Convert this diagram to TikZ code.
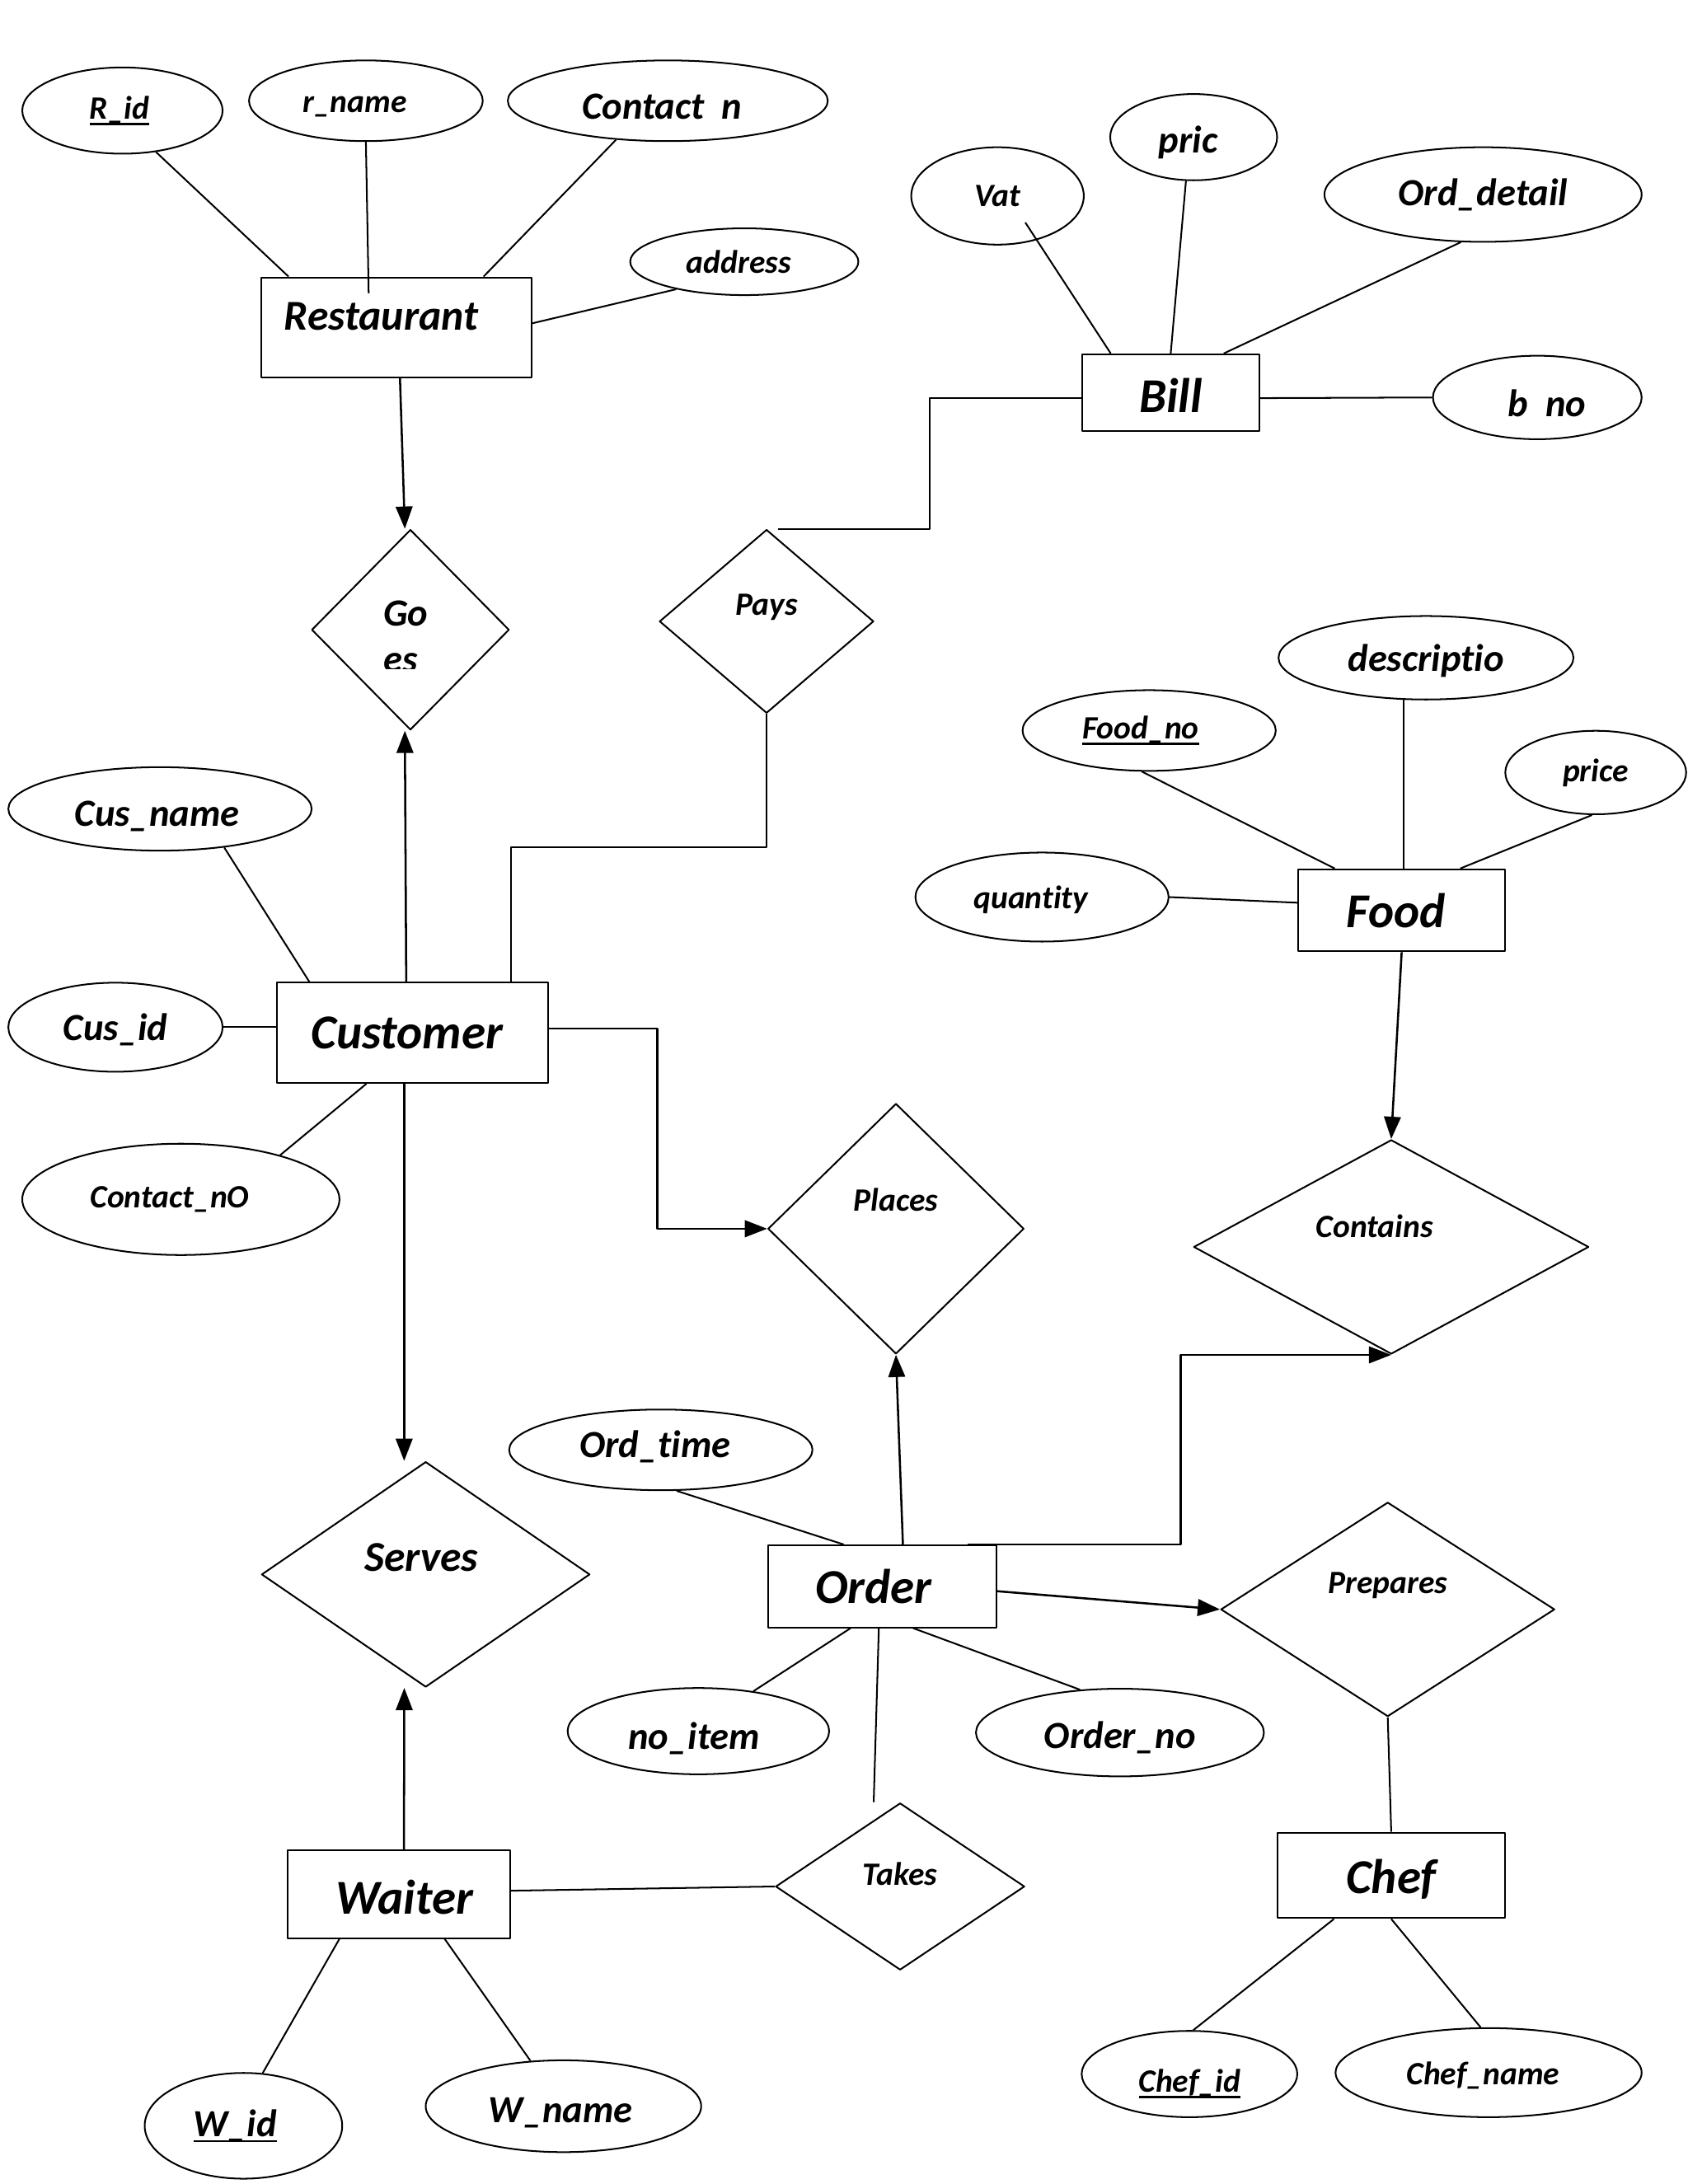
\documentclass[tikz,border=0pt]{standalone}
\usepackage{fontspec}
\setmainfont{Carlito}[Ligatures=NoCommon]
\usetikzlibrary{shapes.geometric,arrows.meta}
\newcommand\szS{\fontsize{11.7}{14}\selectfont}
\newcommand\szM{\fontsize{13.8}{16}\selectfont}
\newcommand\szR{\fontsize{15.3}{18}\selectfont}
\newcommand\szL{\fontsize{17.5}{21}\selectfont}
\newcommand\ul[1]{\setbox0\hbox{#1}\leavevmode\rlap{\vrule height -1.4pt depth 2.1pt width \wd0}\box0}
\tikzset{
	attr/.style={draw,ellipse,inner sep=0pt},
	ent/.style={draw,rectangle,inner sep=0pt},
	rel/.style={draw,diamond,inner sep=0pt},
	link/.style={->,line width=0.75pt},
	atxt/.style={inner sep=0pt,font=\bfseries\itshape},
	etxt/.style={inner sep=0pt,font=\bfseries\itshape\szL},
	rtxt/.style={inner sep=0pt,font=\bfseries\itshape\szS},
	txt/.style={inner sep=0pt,font=\bfseries\itshape\szM}
}
\begin{document}
\begin{tikzpicture}[x=0.5pt,y=-0.503pt,>={Triangle[length=8pt,width=6pt]},line join=round,line width=0.6pt]
	\useasboundingbox (0,0) rectangle (1213,1560.6);
	% attributes
	\foreach \n/\x/\y/\a/\b/\dx/\dy/\t in {
		rid/88/79/72/31/-1/0/{\szS\ul{R\_id}},
		rname/263/72/84/29/-4/-2/{\szS r\_name},
		contn/480/72/115/29/-2/-2/{\szM Contact\ \ n},
		addr/535/187/82/24/-2/0/{\szS address},
		vat/717/140/62/35/0/0/{\szS Vat},
		pric/858/98/60/31/-2/-2/{\szM pric},
		orddet/1066/139/114/34/0/0/{\szM Ord\_detail},
		bno/1105/284/75/30/3.5/-2/{\szM b\ \ no},
		desc/1025/470/106/30/0/-1/{\szM descriptio},
		foodno/826/522/91/29/-3/0/{\szS\ul{Food\_no}},
		price/1147/552/65/30/0/0/{\szS price},
		qty/749/641/91/32/-4/-1/{\szS quantity},
		cusname/115/578/109/30/-1/-2.75/{\szM Cus\_name},
		cusid/83/734/77/32/0/-0.8/{\szM Cus\_id},
		contno/130/857/114/40/-4/0/{\szS Contact\_nO},
		ordtime/475/1036/109/29/-2/1/{\szM Ord\_time},
		noitem/502/1237/94/31/-1.5/-2.5/{\szM no\_item},
		orderno/805/1238/103.5/31.5/0/-1.8/{\szM Order\_no},
		wid/175/1519/71/38/-3/0/{\szM\ul{W\_id}},
		wname/405/1505/99/33/-1/-2.5/{\szM W\_name},
		chefid/855/1482/77.5/31/0/-3.5/{\szS\ul{Chef\_id}},
		chefname/1070/1481/110/32/-2/-1/{\szS Chef\_name}}{
		\node[attr,minimum width=\a pt,minimum height=\b pt,label={[atxt,xshift=\dx pt,yshift=\dy pt]center:\t}] (\n) at (\x,\y) {};
	}
	% entities
	\node[ent,minimum width=97pt,minimum height=36pt,label={[etxt,font=\bfseries\itshape\szR,xshift=-5.5pt,yshift=4pt]center:Restaurant}] (rest) at (285,234) {};
	\node[ent,minimum width=63.5pt,minimum height=27.5pt,label={[etxt,yshift=-1pt]center:Bill}] (bill) at (841.5,280.5) {};
	\node[ent,minimum width=74.5pt,minimum height=29.5pt,label={[etxt,xshift=-2pt]center:Food}] (food) at (1007.5,650.5) {};
	\node[ent,minimum width=97.5pt,minimum height=36pt,label={[etxt,xshift=-2pt]center:Customer}] (cust) at (296.5,738) {};
	\node[ent,minimum width=82pt,minimum height=29.5pt,label={[etxt,xshift=-3pt]center:Order}] (order) at (634,1133.5) {};
	\node[ent,minimum width=79.75pt,minimum height=31.5pt,label={[etxt,xshift=2pt,yshift=-1pt]center:Waiter}] (waiter) at (286.75,1353.5) {};
	\node[ent,minimum width=82pt,minimum height=30.75pt,label={[etxt,yshift=-1.5pt]center:Chef}] (chef) at (1000,1340) {};
	% relationships
	\node[rel,minimum width=71pt,minimum height=72pt] (goes) at (295,450) {};
	\node[txt,anchor=base west] (goA) at (275,447) {Go};
	\begin{scope}
		\clip (250,440) rectangle (340,478);
		\node[txt,anchor=base west] (goB) at (275,480) {es};
	\end{scope}
	\node[rel,minimum width=77pt,minimum height=66pt,label={[rtxt,yshift=5pt]center:Pays}] (pays) at (551,444) {};
	\node[rel,minimum width=92pt,minimum height=90pt,label={[rtxt,yshift=10.5pt]center:Places}] (places) at (644,878) {};
	\node[rel,minimum width=142pt,minimum height=77pt,label={[rtxt,xshift=-6pt,yshift=7.5pt]center:Contains}] (contains) at (1000,891) {};
	\node[rel,minimum width=118pt,minimum height=81pt,label={[rtxt,font=\bfseries\itshape\szR,xshift=-1.5pt,yshift=6pt]center:Serves}] (serves) at (306,1125) {};
	\node[rel,minimum width=89.5pt,minimum height=60pt,label={[rtxt,yshift=4.5pt]center:Takes}] (takes) at (647,1348) {};
	\node[rel,minimum width=120pt,minimum height=77pt,label={[rtxt,yshift=8.5pt]center:Prepares}] (prepares) at (997.5,1150) {};
	% restaurant
	\draw (rid.-51) -- ([xshift=10pt]rest.north west);
	\draw (rname.south) -- ([xshift=-10pt,yshift=-6pt]rest.north);
	\draw (contn.-143) -- ([xshift=-17.5pt]rest.north east);
	\draw (addr.-158) -- ([yshift=1.5pt]rest.east);
	\draw[link] ([xshift=1.25pt]rest.south) -- ([xshift=-2pt]goes.north);
	% bill
	\draw ([xshift=4pt]pays.north) -- ++(109,0) |- ([yshift=-2pt]bill.west);
	\draw ([shift={(20,19)}]vat.center) -- ([xshift=10.5pt]bill.north west);
	\draw (pric.-100) -- (bill.north);
	\draw (orddet.-115) -- ([xshift=-13pt]bill.north east);
	\draw ([yshift=-2pt]bill.east) -- (bno.west);
	% food
	\draw ([xshift=0.75pt]food.north) -- ++(0,-121);
	\draw (foodno.-100) -- ([xshift=13.5pt]food.north west);
	\draw (price.-95) -- ([xshift=-16.5pt]food.north east);
	\draw (qty.east) -- ([yshift=2.75pt]food.west);
	\draw[link] (food.south) -- (contains.north);
	% customer
	\draw (cusname.-31) -- ([xshift=12pt]cust.north west);
	\draw (cusid.east) -- (cusid.east -| cust.west);
	\draw (contno.24) -- ([xshift=32.5pt]cust.south west);
	\draw[link] ([xshift=-2.25pt]cust.north) -- ([xshift=-2pt]goes.south);
	\draw ([xshift=-13.75pt]cust.north east) -- ++(0,-96) -| (pays.south);
	\draw[link] ([yshift=1.5pt]cust.east) -- ++(78,0) |- (places.west);
	\draw[link] ([xshift=-3pt]cust.south) -- ([xshift=-7.75pt]serves.north);
	% waiter
	\draw[link] ([xshift=1.8pt]waiter.north) -- ([xshift=-7.7pt]serves.south);
	\draw ([yshift=1.25pt]waiter.east) -- (takes.west);
	\draw (wid.70) -- ([xshift=18.8pt]waiter.south west);
	\draw (wname.126) -- ([xshift=-23.75pt]waiter.south east);
	% order
	\draw (ordtime.-69) -- ([xshift=27.5pt]order.north west);
	\draw[link] ([xshift=7.5pt]order.north) -- (places.south);
	\draw[link] ([xshift=-10.5pt]order.north east) -- ++(153,0) |- (contains.south);
	\draw[link] ([yshift=-1.75pt]order.east) -- (prepares.west);
	\draw (noitem.36) -- ([xshift=30pt]order.south west);
	\draw (orderno.133) -- ([xshift=52.5pt]order.south west);
	\draw ([xshift=-1.15pt]order.south) -- ([xshift=-9.5pt]takes.north);
	% chef
	\draw (prepares.south) -- (chef.north);
	\draw (chefid.85) -- ([xshift=20.75pt]chef.south west);
	\draw (chefname.100) -- (chef.south);
\end{tikzpicture}
\end{document}
